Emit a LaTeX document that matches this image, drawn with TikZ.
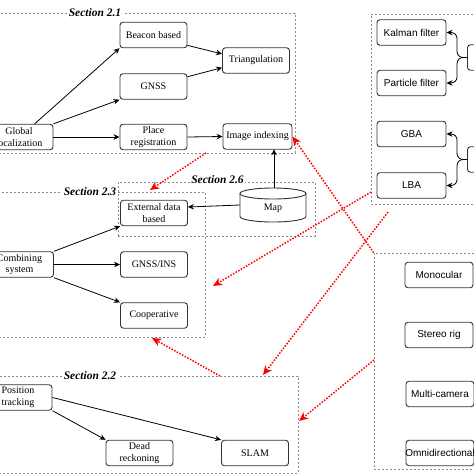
\documentclass[tikz,border=0pt]{standalone}
\usepackage{fontspec}
\setmainfont{Liberation Serif}
\newfontfamily\sansf{Liberation Sans}
\usetikzlibrary{arrows.meta}
\begin{document}
\begin{tikzpicture}[x=1pt,y=-1pt,
  box/.style={draw=black!80, line width=0.9pt, rounded corners=3pt, minimum width=67pt, minimum height=25.5pt, inner sep=1pt, align=center, font=\fontsize{10}{11.5}\selectfont},
  sbox/.style={box, font=\sansf\fontsize{10}{11.5}\selectfont},
  sec/.style={draw=black!45, dash pattern=on 2pt off 2pt, line width=0.7pt, inner sep=0pt},
  seclabel/.style={fill=white, inner sep=1.5pt, font=\bfseries\itshape\fontsize{11.5}{12}\selectfont},
  arr/.style={-{Stealth[length=6pt,width=5.5pt]}, line width=0.8pt, draw=black},
  redarr/.style={draw=red, line width=1.5pt, dash pattern=on 1.5pt off 1.5pt, -{Stealth[length=9pt,width=8pt,inset=2.5pt]}}
]
\useasboundingbox (0,0) rectangle (474,474);
\clip (0,0) rectangle (474,474);

% section boxes
\node[sec, minimum width=300pt, minimum height=140pt] (s21) at (145,83) {};
\node[sec, minimum width=210pt, minimum height=145pt] (s23) at (100,264.5) {};
\node[sec, minimum width=197pt, minimum height=54pt] (s26) at (216.5,209) {};
\node[sec, minimum width=303pt, minimum height=97pt] (s22) at (146.5,424.5) {};
\node[sec, minimum width=110pt, minimum height=190pt] (rt) at (426,109) {};
\node[sec, minimum width=110pt, minimum height=216pt] (rb) at (429,361) {};

\node[seclabel] (l21) at (95,13) {Section 2.1};
\node[seclabel] (l23) at (90,192) {Section 2.3};
\node[seclabel] (l26) at (217.5,180) {Section 2.6};
\node[seclabel] (l22) at (90,376) {Section 2.2};

% section 2.1
\node[box, minimum width=68pt] (glob) at (19,137) {Global\\localization};
\node[box] (beacon) at (153.5,35) {Beacon based};
\node[box] (gnss) at (153.5,86.5) {GNSS};
\node[box] (place) at (153.5,137) {Place\\registration};
\node[box] (tri) at (256,60.5) {Triangulation};
\node[box, minimum width=69pt] (img) at (257.5,136.5) {Image indexing};

% section 2.3
\node[box, minimum width=68pt] (comb) at (19.5,264.5) {Combining\\system};
\node[box] (ext) at (154,213) {External data\\based};
\node[box] (gnssins) at (154,264.5) {GNSS/INS};
\node[box] (coop) at (154,315.5) {Cooperative};

% map cylinder
\node[minimum width=66pt, minimum height=34pt, inner sep=0pt] (map) at (273,205) {};
\draw[line width=0.9pt, draw=black!80, fill=white] (240,193.5) -- (240,216.5) arc[start angle=180, end angle=360, x radius=33pt, y radius=5.5pt] -- (306,193.5);
\draw[line width=0.9pt, draw=black!80] (273,193.5) ellipse[x radius=33pt, y radius=5.5pt];
\node[font=\fontsize{10}{11}\selectfont] (maptxt) at (273,208) {Map};

% section 2.2
\node[box, minimum width=68pt] (pos) at (18,397.5) {Position\\tracking};
\node[box] (dead) at (139.5,453) {Dead\\reckoning};
\node[box] (slam) at (255,453) {SLAM};

% right top
\node[sbox, minimum width=69pt] (kal) at (411.5,32.5) {Kalman filter};
\node[sbox, minimum width=69pt] (part) at (411.5,83) {Particle filter};
\node[sbox, minimum width=69pt] (gba) at (411.5,134) {GBA};
\node[sbox, minimum width=69pt] (lba) at (411.5,185.5) {LBA};
\node[sbox] (r1) at (501,57.5) {};
\node[sbox] (r2) at (501,159.5) {};

% right bottom
\node[sbox, minimum width=68pt] (mono) at (439,275) {Monocular};
\node[sbox, minimum width=68pt] (stereo) at (439,335) {Stereo rig};
\node[sbox, minimum width=68pt] (multi) at (440,394) {Multi-camera};
\node[sbox, minimum width=68pt] (omni) at (440,453) {\makebox[60pt]{Omnidirectional}};

% black arrows
\draw[arr] (glob.40) -- (beacon.south west);
\draw[arr] (glob.north east) -- (gnss.south west);
\draw[arr] (glob.east) -- (place.west);
\draw[arr] (beacon.-17) -- (tri.169);
\draw[arr] (gnss.16) -- (tri.192);
\draw[arr] (place.east) -- (img.west);
\draw[arr] (map.north -| 274,0) -- (274,149.3);
\draw[arr] (map.west) -- (ext.10);
\draw[arr] (comb.north east) -- (ext.south west);
\draw[arr] (comb.east) -- (gnssins.west);
\draw[arr] (comb.south east) -- (coop.north west);
\draw[arr] (pos.south east) -- (dead.north west);
\draw[arr] (pos.east) -- (slam.north west);

\draw[arr, rounded corners=6pt] (r1.west) -- ++(-10,0) |- (kal.east);
\draw[arr, rounded corners=6pt] (r1.west) -- ++(-10,0) |- (part.east);
\draw[arr, rounded corners=6pt] (r2.west) -- ++(-10,0) |- (gba.east);
\draw[arr, rounded corners=6pt] (r2.west) -- ++(-10,0) |- (lba.east);

% red dotted arrows
\coordinate (p1s) at (206,153);
\coordinate (p1e) at (150,190);
\coordinate (pBs) at (371,192);
\coordinate (pBe) at (213,286);
\coordinate (pCs) at (388,212);
\coordinate (pCe) at (263,375);
\coordinate (pDs) at (374,360);
\coordinate (pDe) at (299,421);
\coordinate (pFs) at (220,376);
\coordinate (pFe) at (152,338);
\draw[redarr] (p1s) -- (p1e);
\draw[redarr] (rb.north west) -- (img.east);
\draw[redarr] (pBs) -- (pBe);
\draw[redarr] (pCs) -- (pCe);
\draw[redarr] (pDs) -- (pDe);
\draw[redarr] (pFs) -- (pFe);
\end{tikzpicture}
\end{document}
